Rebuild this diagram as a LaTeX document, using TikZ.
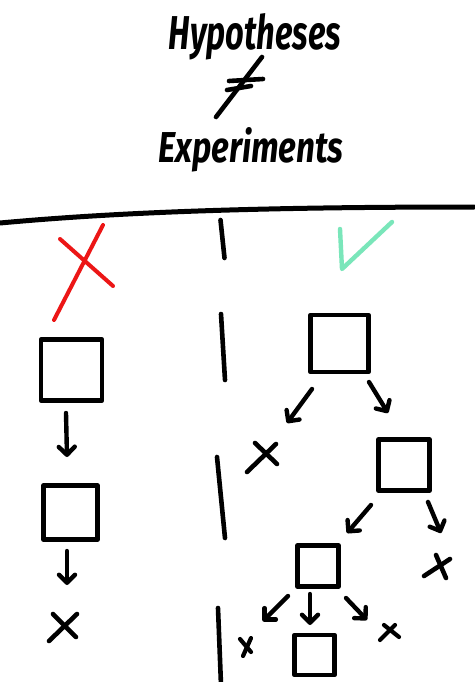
\documentclass[tikz,border=0pt]{standalone}
\usepackage{graphicx}
\usepackage{fontspec}
\newfontfamily\hand{Fira Sans}
\usetikzlibrary{arrows.meta}
\definecolor{crossred}{RGB}{236,22,22}
\definecolor{checkgreen}{RGB}{122,230,186}
\tikzset{
  ink/.style={line width=4.6pt, line cap=round, line join=round},
  stepbox/.style={draw, line width=4.6pt, line join=round, inner sep=0pt, outer sep=0pt, rectangle},
  conn/.style={ink, line width=4.4pt, -{Straight Barb[length=8pt,width=16pt,round]}},
  xmark/.style={ink, line width=4.6pt},
  title/.style={inner sep=0pt, outer sep=0pt, anchor=base, font=\hand\bfseries\itshape},
}
\begin{document}
\begin{tikzpicture}[x=1pt,y=-1pt]
\useasboundingbox (0,0) rectangle (474,682);
\fill[white] (0,0) rectangle (474,682);

% title
\node[title] (hyp) at (255,50) {\resizebox{172pt}{36pt}{Hypotheses}};
\node[title] (exp) at (251,162) {\resizebox{185pt}{35pt}{Experiments}};
\coordinate (neq) at (240,87);
\draw[ink] ([shift={(-11,-6)}]neq) -- ([shift={(23,-8)}]neq);
\draw[ink] ([shift={(-13,3)}]neq) -- ([shift={(11,-1)}]neq);
\draw[ink] ([shift={(22,-30)}]neq) -- ([shift={(-24,30)}]neq);

% top rule
\draw[ink, line width=5pt] (0,223) .. controls (120,212) and (260,207) .. (474,207);

% divider
\draw[ink] (220.5,220) -- (224.5,258);
\draw[ink] (221,314) -- (225,380);
\draw[ink] (217,457) -- (225,538);
\draw[ink] (218,608) -- (221,685);

% red cross and green check
\draw[ink, crossred, line width=4pt] (103,225) -- (54,320);
\draw[ink, crossred, line width=4pt] (60,239) -- (113,286);
\draw[ink, checkgreen, line width=4.4pt] (340,229) -- (342,269) -- (392,222);

% left column
\node[stepbox, minimum width=61pt, minimum height=61pt] (b1) at (71.5,370) {};
\node[stepbox, minimum width=54pt, minimum height=54pt] (b2) at (70.5,512.5) {};
\coordinate (xL) at (64,627);
\draw[xmark] ([shift={(-11,-13)}]xL) -- ([shift={(12,10)}]xL);
\draw[xmark] ([shift={(-15,14)}]xL) -- ([shift={(13,-13)}]xL);
\draw[conn] ([shift={(-5.5,12.5)}]b1.south) -- ([shift={(-3.5,-28.5)}]b2.north);
\draw[conn] ([shift={(-3.5,11.5)}]b2.south) -- ([shift={(3,-42)}]xL);

% right tree
\node[stepbox, minimum width=58pt, minimum height=57pt] (A) at (339.5,343.5) {};
\node[stepbox, minimum width=51pt, minimum height=51pt] (B) at (404,465) {};
\node[stepbox, minimum width=41pt, minimum height=41pt] (C) at (318,566) {};
\node[stepbox, minimum width=40pt, minimum height=40pt] (D) at (314.5,655) {};
\coordinate (x1) at (262,458);
\coordinate (x2) at (437,566);
\coordinate (x3) at (246,647);
\coordinate (x4) at (390,632);
\draw[xmark] ([shift={(-15,14)}]x1) -- ([shift={(14,-14)}]x1);
\draw[xmark] ([shift={(-7,-15)}]x1) -- ([shift={(15,6)}]x1);
\draw[xmark] ([shift={(-13,10)}]x2) -- ([shift={(13,-7)}]x2);
\draw[xmark] ([shift={(-1,-11)}]x2) -- ([shift={(9,12)}]x2);
\draw[xmark, line width=4.2pt] ([shift={(-6,-8)}]x3) -- ([shift={(5,5)}]x3);
\draw[xmark, line width=4.2pt] ([shift={(-3,9)}]x3) -- ([shift={(5,-9)}]x3);
\draw[xmark, line width=4.2pt] ([shift={(-10,8)}]x4) -- ([shift={(5,-7)}]x4);
\draw[xmark, line width=4.2pt] ([shift={(-6,-7)}]x4) -- ([shift={(9,5)}]x4);

\draw[conn] ([shift={(-27.5,17)}]A.south) -- ([shift={(25,-35)}]x1);
\draw[conn] ([shift={(29.5,10)}]A.south) -- ([shift={(-16,-26.5)}]B.north);
\draw[conn] ([shift={(-33,14.5)}]B.south) -- ([shift={(29,-12.5)}]C.north);
\draw[conn] ([shift={(24,11.5)}]B.south) -- ([shift={(4,-33)}]x2);
\draw[conn] ([shift={(-30,9.5)}]C.south) -- ([shift={(17,-26)}]x3);
\draw[conn] ([shift={(-8,7.5)}]C.south) -- ([shift={(-4.5,-10)}]D.north);
\draw[conn] ([shift={(28,11.5)}]C.south) -- ([shift={(-23,-12)}]x4);
\end{tikzpicture}
\end{document}
